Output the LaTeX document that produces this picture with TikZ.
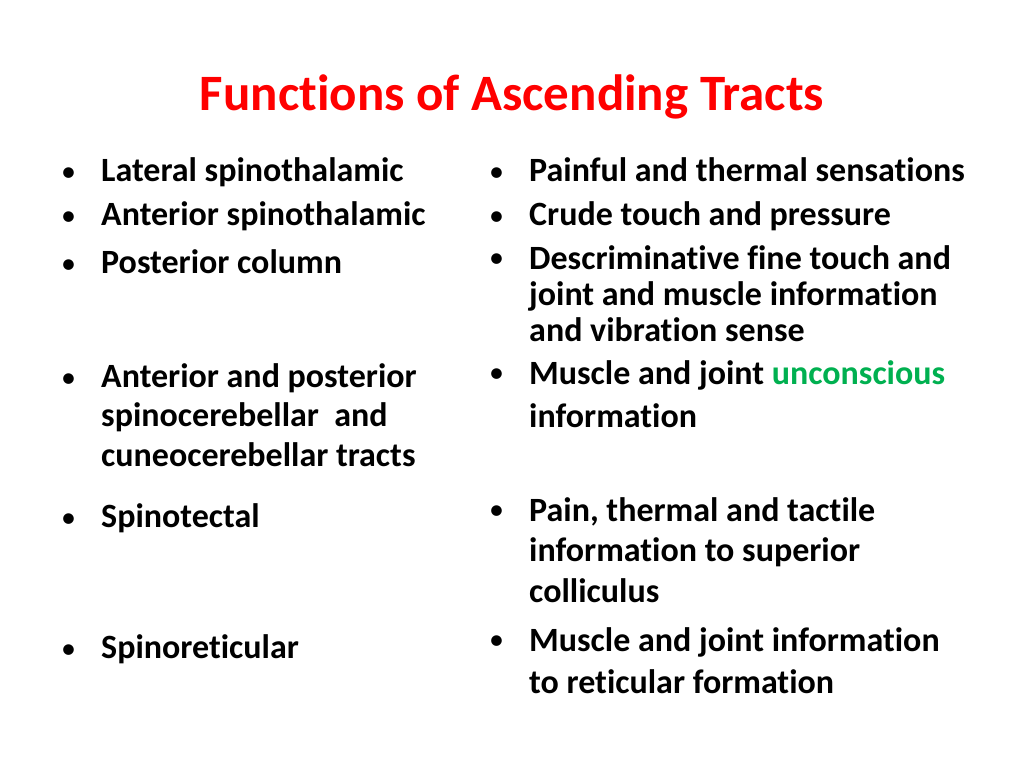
\documentclass[tikz,border=0pt]{standalone}
\usepackage{fontspec}
\setmainfont[Ligatures=NoCommon]{Carlito}
\definecolor{tred}{RGB}{255,0,0}
\definecolor{tgreen}{RGB}{0,176,80}
\begin{document}
\begin{tikzpicture}[x=1pt,y=-1pt,
  txt/.style={anchor=base west,inner sep=0pt,font=\fontsize{34}{36}\selectfont\bfseries},
  bul/.style={anchor=base west,inner sep=0pt,font=\fontsize{30}{32}\selectfont}]
\useasboundingbox[fill=white] (0,0) rectangle (1024,768);
\node[anchor=center,font=\fontsize{51}{54}\selectfont\bfseries,text=tred] (title) at (512,97) {Functions of Ascending Tracts};
% left column
\foreach \n/\y in {b1/171,b2/215,b3/263,b4/377,b5/517,b6/648}{
  \node[bul] (l\n) at (61,\y+10) {•};}
\node[txt] (l1) at (101,181) {Lateral spinothalamic};
\node[txt] (l2) at (101,225) {Anterior spinothalamic};
\node[txt] (l3) at (101,273) {Posterior column};
\node[txt] (l4) at (101,387) {Anterior and posterior};
\node[txt] (l5) at (101,426) {spinocerebellar\ \ and};
\node[txt] (l6) at (101,466) {cuneocerebellar tracts};
\node[txt] (l7) at (101,527) {Spinotectal};
\node[txt] (l8) at (101,658) {Spinoreticular};
% right column
\foreach \n/\y in {b1/171,b2/215,b3/257,b4/372,b5/509,b6/639}{
  \node[bul] (r\n) at (489,\y+10) {•};}
\node[txt] (r1) at (529,181) {Painful and thermal sensations};
\node[txt] (r2) at (529,225) {Crude touch and pressure};
\node[txt] (r3) at (529,269) {Descriminative fine touch and};
\node[txt] (r4) at (529,305) {joint and muscle information};
\node[txt] (r5) at (529,341) {and vibration sense};
\node[txt] (r6) at (529,384) {Muscle and joint \textcolor{tgreen}{unconscious}};
\node[txt] (r7) at (529,427) {information};
\node[txt] (r8) at (529,521) {Pain, thermal and tactile};
\node[txt] (r9) at (529,561) {information to superior};
\node[txt] (r10) at (529,602) {colliculus};
\node[txt] (r11) at (529,651) {Muscle and joint information};
\node[txt] (r12) at (529,693) {to reticular formation};
\end{tikzpicture}
\end{document}
